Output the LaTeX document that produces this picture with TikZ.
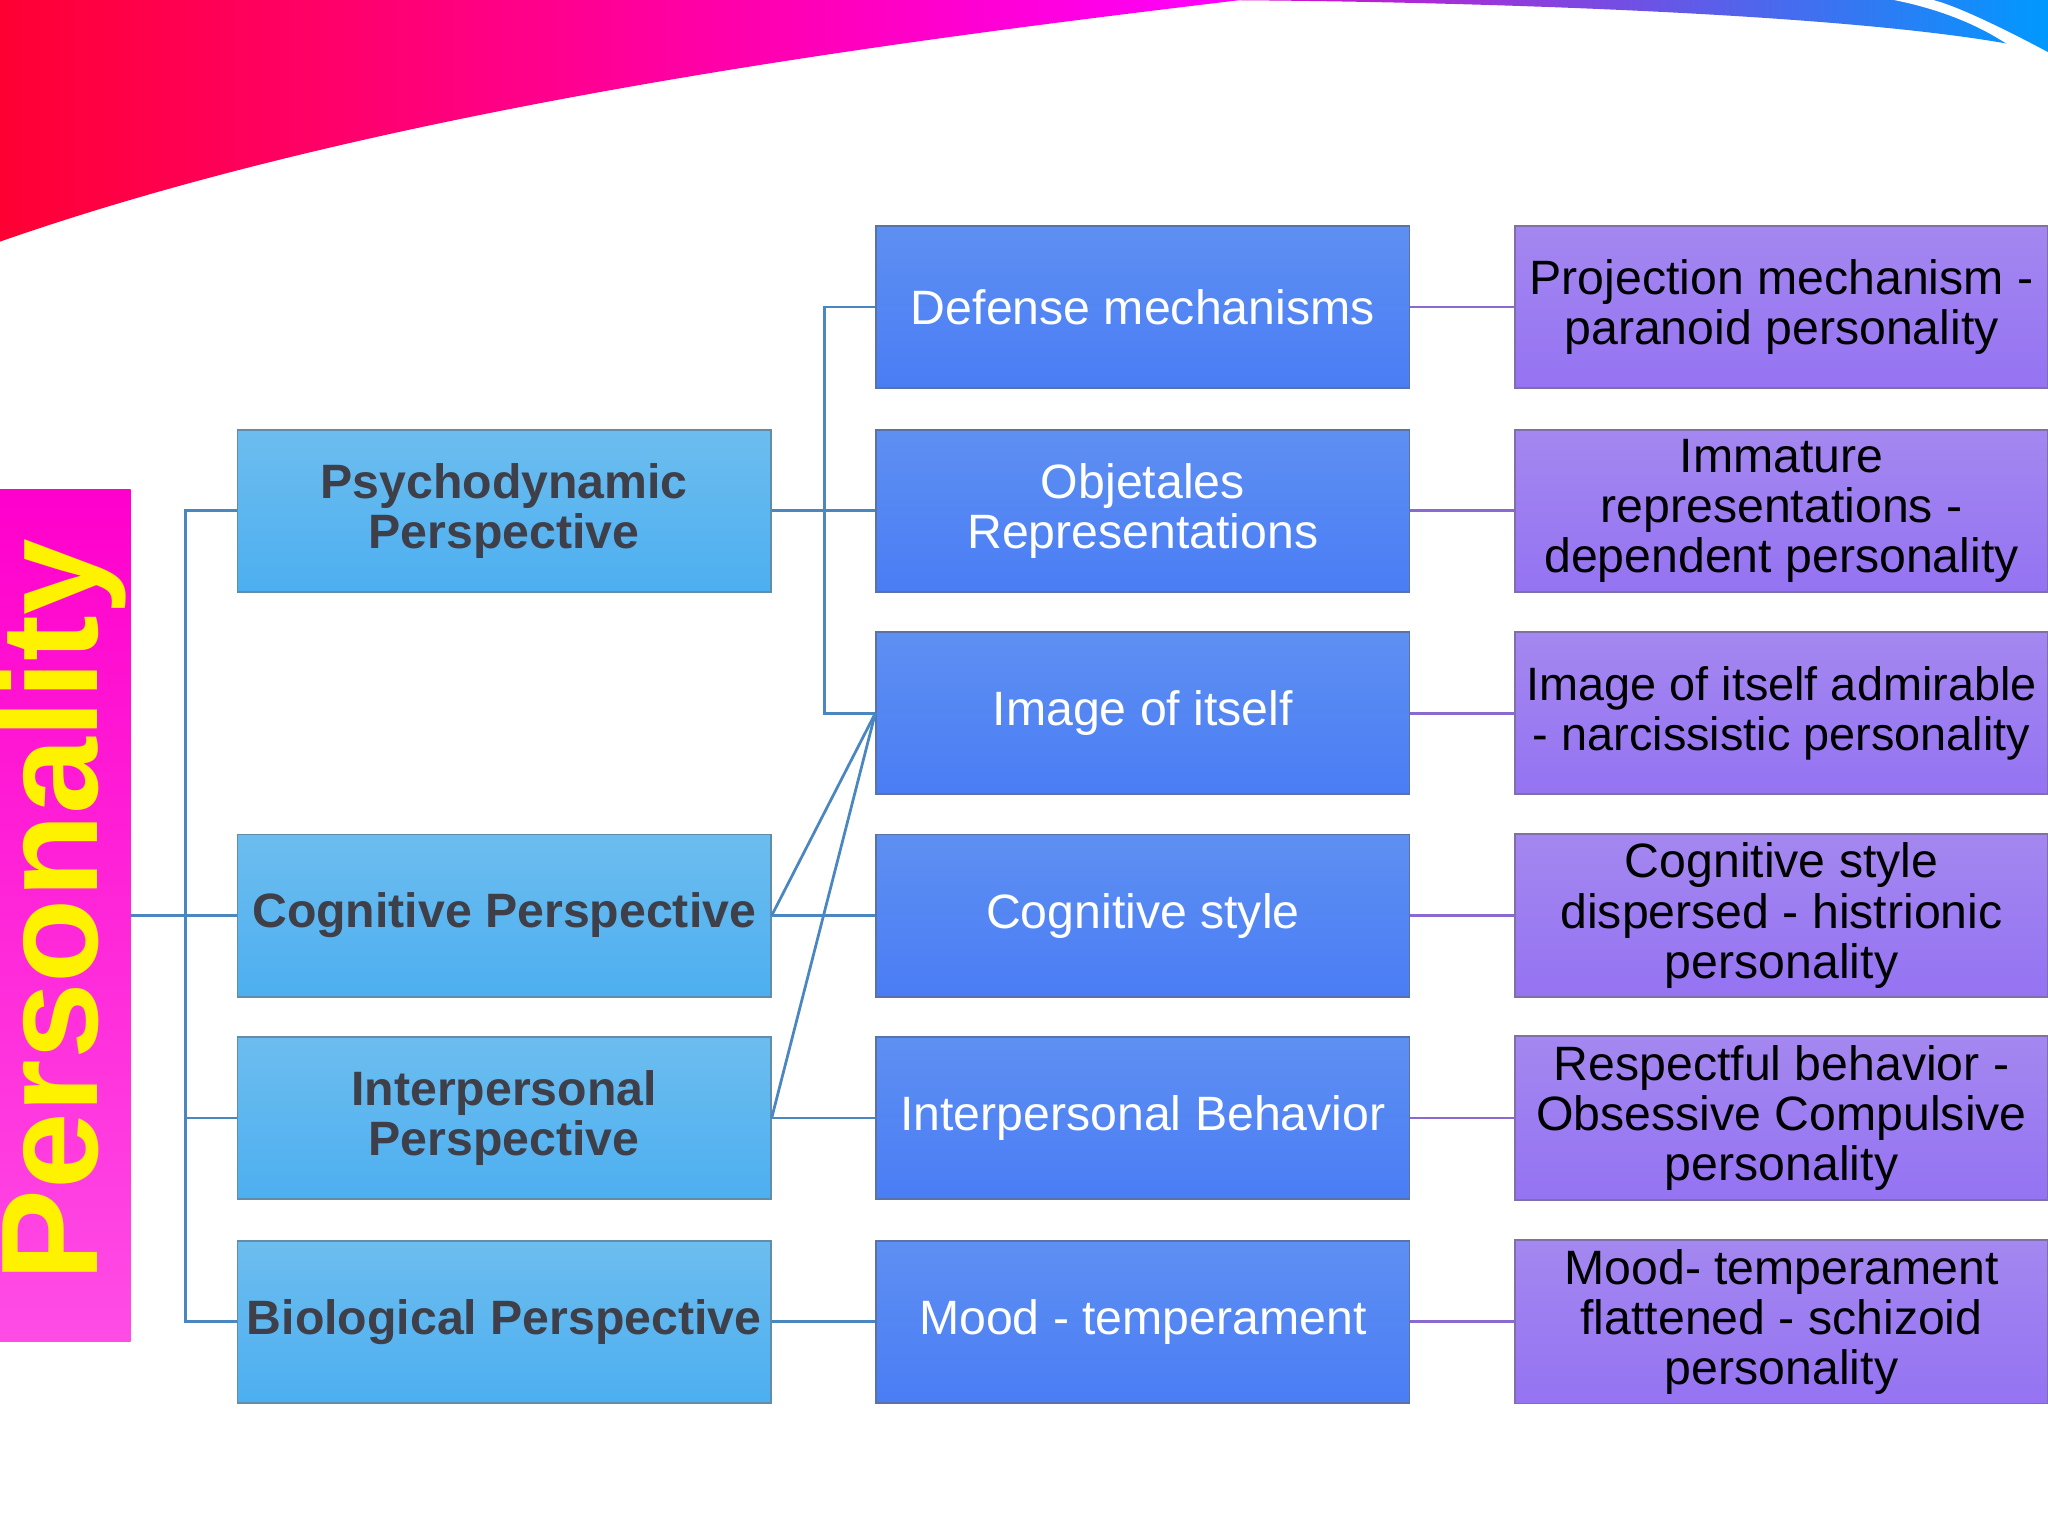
\documentclass[tikz,border=0pt]{standalone}
\usepackage{fontspec}
\setmainfont{Liberation Sans}
\begin{document}
\begin{tikzpicture}[x=0.01cm,y=-0.01cm,
 box/.style={minimum width=4.08cm,minimum height=1.24cm,align=center,inner sep=2pt,
   font=\fontsize{10.5}{10.9}\selectfont,draw=#1!70!black,line width=0.4pt},
 c1/.style={box=c1c,top color=c1a,bottom color=c1b,text=textg,font=\bfseries\fontsize{10.5}{10.9}\selectfont},
 c2/.style={box=c2c,top color=c2a,bottom color=c2b,text=white},
 c3/.style={box=c3c,top color=c3a,bottom color=c3b,text=black},
 ln/.style={draw=linec,line width=0.6pt},
 lp/.style={draw=linep,line width=0.6pt}]
\definecolor{c1a}{HTML}{6CBDEF}\definecolor{c1b}{HTML}{4DAFF0}\definecolor{c1c}{HTML}{8CC8F0}
\definecolor{c2a}{HTML}{5E8FF2}\definecolor{c2b}{HTML}{4A7DF5}\definecolor{c2c}{HTML}{7FA5F0}
\definecolor{c3a}{HTML}{A487F0}\definecolor{c3b}{HTML}{9573F2}\definecolor{c3c}{HTML}{B7A0F0}
\definecolor{textg}{HTML}{3F3F4A}\definecolor{linec}{HTML}{4A86C0}\definecolor{linep}{HTML}{8A6AD0}
\useasboundingbox (0,0) rectangle (1568,1176);
\fill[white] (0,0) rectangle (1568,1176);
% top swoosh
\shade[left color=red!80!magenta,right color=magenta] (0,0) -- (950,0) .. controls (700,30) and (300,80) .. (0,185) -- cycle;
\shade[left color=magenta!70!purple,right color=cyan!60!blue] (900,0) -- (1568,0) -- (1568,40) .. controls (1450,10) and (1100,0) .. (900,0) -- cycle;
\fill[white] (1450,0) .. controls (1500,10) and (1540,30) .. (1568,60) -- (1568,40) .. controls (1540,25) and (1500,5) .. (1480,0) -- cycle;
% personality bar
\shade[top color=magenta!80!red,bottom color=magenta!60!pink] (0,375) rectangle (100,1027);
\node[rotate=90,anchor=base,text=yellow,font=\bfseries\fontsize{30}{30}\selectfont] (pers) at (75,697) {Personality};
\coordinate (pr) at (100,701);
% column 1
\node[c1] (psy) at (386,391) {Psychodynamic\\Perspective};
\node[c1] (cog) at (386,701) {Cognitive Perspective};
\node[c1] (int) at (386,856) {Interpersonal\\Perspective};
\node[c1] (bio) at (386,1012) {Biological Perspective};
% column 2
\node[c2] (def) at (875,235) {Defense mechanisms};
\node[c2] (obj) at (875,391) {Objetales\\Representations};
\node[c2] (img) at (875,546) {Image of itself};
\node[c2] (cs) at (875,701) {Cognitive style};
\node[c2] (ib) at (875,856) {Interpersonal Behavior};
\node[c2] (mood) at (875,1012) {Mood - temperament};
% column 3
\node[c3] (p1) at (1364,235) {Projection mechanism -\\paranoid personality};
\node[c3] (p2) at (1364,391) {Immature\\representations -\\dependent personality};
\node[c3,inner sep=0pt,font=\fontsize{10.2}{10.9}\selectfont] (p3) at (1364,546) {Image of itself admirable\\- narcissistic personality};
\node[c3] (p4) at (1364,701) {Cognitive style\\dispersed - histrionic\\personality};
\node[c3] (p5) at (1364,856) {Respectful behavior -\\Obsessive Compulsive\\personality};
\node[c3] (p6) at (1364,1012) {Mood- temperament\\flattened - schizoid\\personality};
% connectors
\draw[ln] (pr) -- (142,701);
\draw[ln] (psy.west) -| (142,1012) -- (bio.west);
\draw[ln] (142,701) -- (cog.west);
\draw[ln] (142,856) -- (int.west);
\draw[ln] (psy.east) -- (631,391);
\draw[ln] (def.west) -| (631,546) -- (img.west);
\draw[ln] (631,391) -- (obj.west);
\draw[ln] (cog.east) -- (img.west);
\draw[ln] (int.east) -- (img.west);
\draw[ln] (cog.east) -- (cs.west);
\draw[ln] (int.east) -- (ib.west);
\draw[ln] (bio.east) -- (mood.west);
\foreach \a/\b in {def/p1,obj/p2,img/p3,cs/p4,ib/p5,mood/p6} \draw[lp] (\a.east) -- (\b.west);
\end{tikzpicture}
\end{document}
